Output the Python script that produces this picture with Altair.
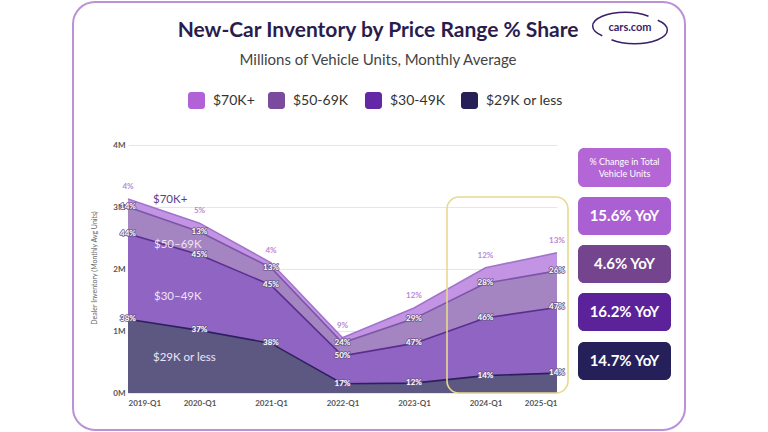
import altair as alt
import pandas as pd

# ---------------- data ----------------
quarters = [2019, 2020, 2021, 2022, 2023, 2024, 2025]
series = ["$29K or less", "$30-49K", "$50-69K", "$70K+"]
v_29k = [1.19, 1.01, 0.80, 0.15, 0.16, 0.28, 0.32]
v_30_49 = [1.38, 1.22, 0.94, 0.45, 0.64, 0.93, 1.06]
v_50_69 = [0.43, 0.37, 0.28, 0.21, 0.40, 0.56, 0.59]
v_70 = [0.13, 0.14, 0.08, 0.08, 0.17, 0.25, 0.29]
s_29k = ["38%", "37%", "38%", "17%", "12%", "14%", "14%"]
s_30_49 = ["44%", "45%", "45%", "50%", "47%", "46%", "47%"]
s_50_69 = ["14%", "13%", "13%", "24%", "29%", "28%", "26%"]
s_70 = ["4%", "5%", "4%", "9%", "12%", "12%", "13%"]
y_ticks = [0, 1, 2, 3, 4]
legend_labels = ["$70K+", "$50-69K", "$30-49K", "$29K or less"]
yoy_labels = ["15.6% YoY", "4.6% YoY", "16.2% YoY", "14.7% YoY"]
inline_labels = ["$70K+", "$50\u201369K", "$30\u201349K", "$29K or less"]

# ---------------- styling ----------------
fill_colors = ["#5d5882", "#9064c2", "#a584c2", "#c494e4"]
line_colors = ["#2e2060", "#5a2e90", "#7b55a8", "#a274cc"]
legend_colors = ["#b062d6", "#7a4a9c", "#6428a6", "#262056"]
yoy_colors = ["#aa60d2", "#74448f", "#5c229a", "#25205a"]
FONT = "Lato"

rows = []
vals = [v_29k, v_30_49, v_50_69, v_70]
shares = [s_29k, s_30_49, s_50_69, s_70]
for k, name in enumerate(series):
    for i, q in enumerate(quarters):
        rows.append({"q": q, "s": name, "v": vals[k][i], "share": shares[k][i], "ord": k})
df = pd.DataFrame(rows)
one = pd.DataFrame({"k": [0]})

xs = alt.Scale(domain=[2019, 2025], nice=False, zero=False)
ys = alt.Scale(domain=[0, 4], nice=False)
xaxis = alt.Axis(values=quarters, labelExpr="datum.value + '-Q1'", title=None,
                 domain=False, ticks=False, grid=False, labelFontSize=8,
                 labelColor="#555555", labelPadding=6, labelFont=FONT, labelFontWeight="bold")
yaxis = alt.Axis(values=y_ticks, labelExpr="datum.value + 'M'", title=None,
                 domain=False, ticks=False, grid=True, gridColor="#e6e6e6",
                 labelFontSize=8, labelColor="#555555", labelPadding=3,
                 labelFont=FONT, labelFontWeight="bold")


def X():
    return alt.X("q:Q", scale=xs, axis=xaxis)


def Y(field):
    return alt.Y(field, scale=ys, axis=yaxis)


stacked = alt.Chart(df).transform_stack(
    stack="v", groupby=["q"], as_=["lo", "hi"],
    sort=[alt.SortField("ord", order="ascending")])

area = alt.Chart(df).mark_area(opacity=1).encode(
    x=X(), y=alt.Y("v:Q", stack="zero", scale=ys, axis=yaxis),
    color=alt.Color("s:N", scale=alt.Scale(domain=series, range=fill_colors), legend=None),
    order=alt.Order("ord:Q", sort="ascending"))

lines = stacked.mark_line(strokeWidth=1.6).encode(
    x=X(), y=Y("hi:Q"),
    stroke=alt.Stroke("s:N", scale=alt.Scale(domain=series, range=line_colors), legend=None),
    detail="s:N")

inner_halo = stacked.transform_filter("datum.ord < 3").mark_text(
    fontSize=8, font=FONT, fontWeight="bold", fill="#6a5a8e", stroke="#6a5a8e",
    strokeWidth=1.6, strokeJoin="round").encode(x=X(), y=Y("hi:Q"), text="share:N")

inner_labels = stacked.transform_filter("datum.ord < 3").mark_text(
    fontSize=8, font=FONT, fontWeight="bold", fill="#ffffff").encode(
    x=X(), y=Y("hi:Q"), text="share:N")

top_labels = stacked.transform_filter("datum.ord == 3").mark_text(
    fontSize=8, font=FONT, fontWeight="bold", color="#b88ad8", dy=-12).encode(
    x=X(), y=Y("hi:Q"), text="share:N")

layers = []

# outer frame
layers.append(alt.Chart(one).mark_rect(cornerRadius=22, fillOpacity=0, stroke="#bb92d6",
                                        strokeWidth=2).encode(
    x=alt.value(-55), x2=alt.value(557), y=alt.value(-143), y2=alt.value(285)))

layers += [area, lines, inner_halo, inner_labels, top_labels]

# highlight box
layers.append(alt.Chart(one).mark_rect(cornerRadius=12, fillOpacity=0, stroke="#e8d98e",
                                        strokeWidth=1.6).encode(
    x=alt.value(319), x2=alt.value(440), y=alt.value(52), y2=alt.value(248)))

# title / subtitle / logo
layers.append(alt.Chart(one).mark_text(text="New-Car Inventory by Price Range % Share",
                                        font=FONT, fontSize=21, fontWeight="bold",
                                        color="#2a1d4e").encode(
    x=alt.value(250), y=alt.value(-114)))
layers.append(alt.Chart(one).mark_text(text="Millions of Vehicle Units, Monthly Average",
                                        font=FONT, fontSize=15, color="#444444").encode(
    x=alt.value(250), y=alt.value(-85)))
layers.append(alt.Chart(one).mark_text(text="cars.com", font=FONT, fontSize=11,
                                        fontWeight="bold", color="#3a1f6b").encode(
    x=alt.value(502), y=alt.value(-117)))
layers.append(alt.Chart(one).mark_point(
    shape="M-0.9,0.25 A1,0.42 0 0,1 0.6,-0.38 M0.9,-0.25 A1,0.42 0 0,1 -0.6,0.38",
    size=3800, filled=False, stroke="#3a1f6b", strokeWidth=1.5, opacity=1).encode(
    x=alt.value(502), y=alt.value(-117)))

# legend
sq_x = [60, 140, 237, 333]
for i, lab in enumerate(legend_labels):
    layers.append(alt.Chart(one).mark_rect(cornerRadius=3, color=legend_colors[i]).encode(
        x=alt.value(sq_x[i]), x2=alt.value(sq_x[i] + 17), y=alt.value(-53), y2=alt.value(-36)))
    layers.append(alt.Chart(one).mark_text(text=lab, font=FONT, fontSize=14, align="left",
                                            color="#333333").encode(
        x=alt.value(sq_x[i] + 25), y=alt.value(-44)))

# inline series labels
inline_pos = [(25, 55), (26, 100), (26, 152), (25, 213)]
inline_cols = ["#5b3b8c", "#eee4f6", "#eee4f6", "#eee4f6"]
for i, lab in enumerate(inline_labels):
    layers.append(alt.Chart(one).mark_text(text=lab, font=FONT, fontSize=11.5, align="left",
                                            color=inline_cols[i]).encode(
        x=alt.value(inline_pos[i][0]), y=alt.value(inline_pos[i][1])))

# y title
layers.append(alt.Chart(one).mark_text(text="Dealer Inventory (Monthly Avg Units)", font=FONT,
                                        fontSize=7, angle=270, color="#666666").encode(
    x=alt.value(-33), y=alt.value(123)))

# right panel
layers.append(alt.Chart(one).mark_rect(cornerRadius=6, color="#b466d6").encode(
    x=alt.value(450), x2=alt.value(543), y=alt.value(3), y2=alt.value(42)))
layers.append(alt.Chart(one).mark_text(text="% Change in Total", font=FONT, fontSize=9,
                                        color="#ffffff").encode(
    x=alt.value(496.5), y=alt.value(17)))
layers.append(alt.Chart(one).mark_text(text="Vehicle Units", font=FONT, fontSize=9,
                                        color="#ffffff").encode(
    x=alt.value(496.5), y=alt.value(29)))
box_y = [52, 100, 148, 197]
for i, lab in enumerate(yoy_labels):
    layers.append(alt.Chart(one).mark_rect(cornerRadius=6, color=yoy_colors[i]).encode(
        x=alt.value(450), x2=alt.value(543), y=alt.value(box_y[i]), y2=alt.value(box_y[i] + 38)))
    layers.append(alt.Chart(one).mark_text(text=lab, font=FONT, fontSize=15, fontWeight="bold",
                                            color="#ffffff").encode(
        x=alt.value(496.5), y=alt.value(box_y[i] + 19)))

chart = alt.layer(*layers).properties(
    width=429, height=248,
    autosize=alt.AutoSizeParams(type="none"),
    padding={"left": 128, "top": 145, "right": 211, "bottom": 39},
    background="white",
).configure_view(stroke=None)

chart.save("out.html", embed_options={"renderer": "svg", "actions": False})
